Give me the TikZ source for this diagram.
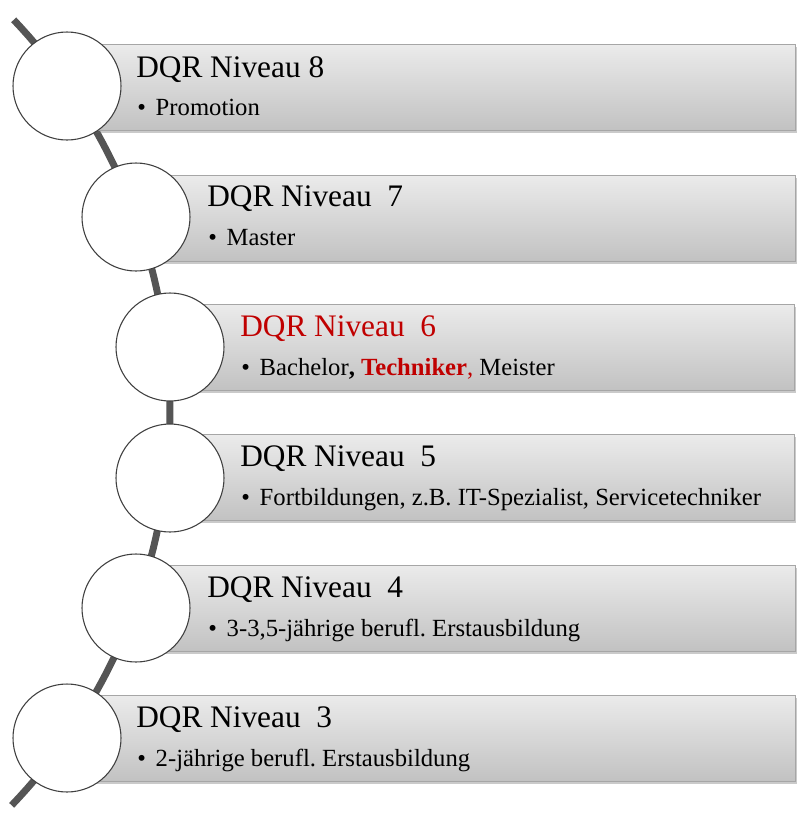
\documentclass[tikz,border=0pt]{standalone}
\usepackage{fontspec}
\setmainfont{Liberation Serif}
\usepackage{xcolor}
\usetikzlibrary{positioning, shadows, calc}
\frenchspacing

\definecolor{boxtop}{HTML}{EBEBEB}
\definecolor{boxbot}{HTML}{C2C2C2}
\definecolor{boxline}{HTML}{A6A6A6}
\definecolor{spinegray}{HTML}{555555}
\definecolor{dqrred}{HTML}{C00000}

\tikzset{
  levelbox/.style={rectangle, anchor=west, draw=boxline, line width=0.6pt,
    top color=boxtop, bottom color=boxbot, minimum height=64.5pt,
    drop shadow={shadow xshift=1.5pt, shadow yshift=-2.2pt, opacity=0.35, fill=black!60}},
  dot/.style={circle, draw=black!75, fill=white, line width=0.8pt, minimum size=81pt, inner sep=0pt},
  title/.style={anchor=base west, inner sep=0pt, font=\fontsize{23.5}{26}\selectfont},
  item/.style={anchor=base west, inner sep=0pt, font=\fontsize{18.5}{22}\selectfont},
  spine/.style={draw=spinegray, line width=5.2pt}
}

\begin{document}
\begin{tikzpicture}[x=0.75pt, y=-0.75pt]
\useasboundingbox (0,0) rectangle (805,825);

% the bent line behind the circles
\draw[spine] plot[domain=-43.5:43.8, samples=80] ({-399+569*cos(\x)}, {411.5+569*sin(\x)});

% boxes
\node (B8) [levelbox, minimum width=546pt] at (67,87) {};
\node (B7) [levelbox, minimum width=494pt] at (136,218) {};
\node (B6) [levelbox, minimum width=468pt] at (170,347) {};
\node (B5) [levelbox, minimum width=468pt] at (170,477.5) {};
\node (B4) [levelbox, minimum width=494pt] at (136,608) {};
\node (B3) [levelbox, minimum width=546pt] at (67,738) {};

% circles
\node (C8) [dot] at (67,86) {};
\node (C7) [dot] at (136,217) {};
\node (C6) [dot] at (170,347) {};
\node (C5) [dot] at (170,478) {};
\node (C4) [dot] at (136,608) {};
\node (C3) [dot] at (67,738) {};

% texts
\node (T8) [title] at (136,77) {DQR Niveau 8};
\node (I8) [item] at (137,115) {\textbullet\hspace{0.4em}Promotion};
\node (T7) [title] at (207,206) {DQR Niveau\ \ 7};
\node (I7) [item] at (208,245) {\textbullet\hspace{0.4em}Master};
\node (T6) [title, text=dqrred] at (240,336) {DQR Niveau\ \ 6};
\node (I6) [item] at (241,375) {\textbullet\hspace{0.4em}Bachelor\textbf{, \textcolor{dqrred}{Techniker}}\textcolor{dqrred}{,} Meister};
\node (T5) [title] at (240,466) {DQR Niveau\ \ 5};
\node (I5) [item] at (241,505) {\textbullet\hspace{0.4em}Fortbildungen, z.B. IT-Spezialist,\ Servicetechniker};
\node (T4) [title] at (207,597) {DQR Niveau\ \ 4};
\node (I4) [item] at (208,636) {\textbullet\hspace{0.4em}3-3,5-jährige\ berufl. Erstausbildung};
\node (T3) [title] at (136,727) {DQR Niveau\ \ 3};
\node (I3) [item] at (137,766) {\textbullet\hspace{0.4em}2-jährige berufl. Erstausbildung};
\end{tikzpicture}
\end{document}
